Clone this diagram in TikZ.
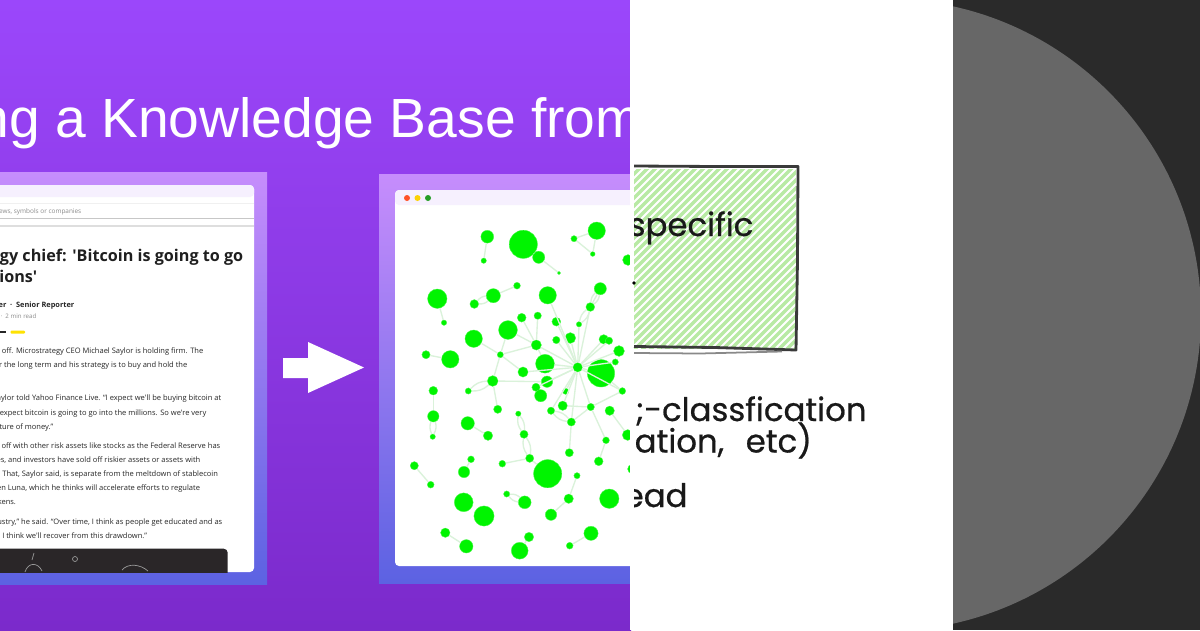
\documentclass[tikz,border=0pt]{standalone}
\usepackage{fontspec}
\setmainfont{Liberation Sans}
\newfontfamily\artfont{Open Sans}
\newfontfamily\handfont[FakeBold=.6]{Poppins}
\definecolor{BgTop}{HTML}{9B47FB}
\definecolor{BgBottom}{HTML}{7B2ACB}
\definecolor{PanelTop}{HTML}{C68DFC}
\definecolor{PanelBottom}{HTML}{5C62E2}
\definecolor{TitleBar}{HTML}{F6F0FE}
\definecolor{GraphGreen}{HTML}{00F400}
\definecolor{GraphEdge}{HTML}{DAF2DA}
\definecolor{Hatch}{HTML}{B8EAA4}
\definecolor{Sketch}{HTML}{3A3A3A}
\definecolor{DarkBg}{HTML}{2A2A2A}
\definecolor{DiscGray}{HTML}{676767}
\definecolor{PhotoDark}{HTML}{2A2628}
\tikzset{
  bodytext/.style={anchor=base east,inner sep=0pt,text=black!85,font=\artfont\fontsize{2.14}{2.5}\selectfont},
  headtext/.style={anchor=base east,inner sep=0pt,text=black!88,font=\artfont\bfseries\fontsize{4.6}{5.5}\selectfont},
  handtext/.style={anchor=base west,inner sep=0pt,text=black!90,font=\handfont\fontsize{9.2}{11}\selectfont},
  dot/.style={circle,fill=GraphGreen,inner sep=0pt,draw=GraphGreen!70!white,line width=.1pt},
  link/.style={draw=GraphEdge,line width=.38pt}
}
\begin{document}
\begin{tikzpicture}[x=.01cm,y=-.01cm]
  \path[use as bounding box,clip] (0,0) rectangle (1200,630);
  % purple slide
  \fill[top color=BgTop,bottom color=BgBottom] (0,0) rectangle (631,630);
  \node[anchor=base west,inner sep=0pt,text=white,font=\fontsize{15.7}{18}\selectfont] (slidetitle) at (-22,137) {ng a Knowledge Base from};
  \fill[top color=PanelTop,bottom color=PanelBottom] (0,172) rectangle (267,584);
  \fill[top color=PanelTop,bottom color=PanelBottom] (379,174) rectangle (631,583);
  % article card
  \fill[white,rounded corners=.04cm] (-20,185) rectangle (254,572);
  \fill[TitleBar,rounded corners=.04cm] (-20,185) rectangle (254,197);
  \draw[black!6,line width=.2pt] (-20,203) -- (254,203);
  \draw[black!22,line width=.2pt] (-20,218) -- (254,218);
  \fill[black!13] (-20,225) rectangle (254,227);
  \node[bodytext,text=black!45,font=\artfont\fontsize{1.83}{2.3}\selectfont] (search) at (82,213.5) {news, symbols or companies};
  \node[headtext] (head1) at (244,261) {egy chief: 'Bitcoin is going to go};
  \node[headtext] (head2) at (38,282) {lions'};
  \node[bodytext,text=black!85,font=\artfont\bfseries\fontsize{2.1}{2.8}\selectfont] (byline) at (75,307.5) {er\ \ ·\ \ Senior Reporter};
  \node[bodytext,text=black!45,font=\artfont\fontsize{1.75}{2.3}\selectfont] (readtime) at (37,318) {·\ \ 2 min read};
  \fill[black!85] (-5,331) rectangle (6,333);
  \fill[yellow!85!orange,rounded corners=.01cm] (10.5,330.5) rectangle (25,333.5);
  \node[bodytext] (l1) at (204,353) {l off. Microstrategy CEO Michael Saylor is holding firm. The};
  \node[bodytext] (l2) at (188,367) {r the long term and his strategy is to buy and hold the};
  \node[bodytext] (l3) at (222,400.7) {aylor told Yahoo Finance Live. “I expect we'll be buying bitcoin at};
  \node[bodytext] (l4) at (207,415) {expect bitcoin is going to go into the millions. So we're very};
  \node[bodytext] (l5) at (54,429) {ture of money.”};
  \node[bodytext] (l6) at (221,448.7) {off with other risk assets like stocks as the Federal Reserve has};
  \node[bodytext] (l7) at (201,462.7) {es, and investors have sold off riskier assets or assets with};
  \node[bodytext] (l8) at (218.7,476.7) {. That, Saylor said, is separate from the meltdown of stablecoin};
  \node[bodytext] (l9) at (200.7,490.7) {en Luna, which he thinks will accelerate efforts to regulate};
  \node[bodytext] (l10) at (16.7,504.3) {kens.};
  \node[bodytext] (l11) at (223,524.7) {ustry,” he said. “Over time, I think as people get educated and as};
  \node[bodytext] (l12) at (147.7,538.7) {, I think we'll recover from this drawdown.”};
  \begin{scope}
    \clip (-20,548.7) rectangle (227.7,572);
    \fill[PhotoDark,rounded corners=.04cm] (-20,548.7) rectangle (227.7,590);
    \draw[white!60!black,line width=.2pt] (25,572) .. controls (28,562) and (38,562) .. (42,571);
    \draw[white!60!black,line width=.2pt] (32,560) -- (34,553);
    \draw[white!60!black,line width=.2pt] (75,559) circle (2.5);
    \draw[white!60!black,line width=.2pt] (122,570) .. controls (128,563) and (140,564) .. (148,571);
  \end{scope}
  % arrow between the two panels
  \fill[white] (283,358) -- (308,358) -- (308,342) -- (364,367.5) -- (308,393) -- (308,378) -- (283,378) -- cycle;
  % graph card
  \fill[white,rounded corners=.04cm] (395,190) rectangle (660,566);
  \fill[TitleBar,rounded corners=.04cm] (395,190) rectangle (660,205);
  \fill[red!60!orange!85] (407,198) circle (3);
  \fill[yellow!70!orange] (417.5,198) circle (3);
  \fill[green!55!black!85] (428,198) circle (3);
  \foreach \nm/\px/\py/\rad in {
    a/487.3/236.7/6, b/483.7/260.7/2.3, c/523.3/244.3/13.7, d/538.7/257.3/5.7, e/559/273/1.3,
    f/596.7/230.7/8.3, g/574/238.7/2.7, h/592.7/254/2, i/628/260/5, j/437.3/298.7/9.3,
    k/444/322.7/2.3, l/493.3/295.7/6.7, m/474.3/304/4, n/517/285.7/3, o/547.7/295.3/8.3,
    p/600.3/288.7/5.7, q/590.3/307/4, r/579/324.3/2.3, s/521.7/317.7/4, t/537.7/315.7/3.3,
    u/556.3/321.7/4, v/508/330/9, w/473.7/338.7/8.3, x/536.3/345/4.7, y/556.3/340/3.3,
    z/570.3/338/5, aa/603.7/339.3/4.3, ab/609/340.7/3.3, ac/619/351/5, ad/615.3/362/2.7,
    ae/426/354.7/3.7, af/450.3/359.3/8.3, ag/500.3/354.7/2.7, ah/545/363.7/9, ai/523/372/4.7,
    aj/577.7/367.3/4.3, ak/601/373.3/13.3, al/492.7/381/5, am/468.3/391/2.7, an/547/381.7/5.3,
    ao/536/387.3/3.7, ap/540.7/395.7/5.7, aq/565.7/391.3/2.7, ar/562.7/405.7/4.3, as/551/410.7/3.3,
    at/590.7/407/3.3, au/622.3/391/3, av/609.7/410.7/4.3, aw/571.3/422/3.7, ax/433.3/390.7/4,
    ay/433.3/416.3/5.3, az/432.7/436.7/2.3, ba/497.7/409.3/3.7, bb/467.7/423.3/6.3, bc/488/435.7/4.3,
    bd/518.3/413.7/2.3, be/524/434.3/3.7, bf/529.7/458.3/3.7, bg/502.3/463.7/3, bh/547.7/473.7/13.7,
    bi/569.3/452.7/3.7, bj/606/440.3/3, bk/598.7/461.3/4, bl/627.7/435/5, bm/632/469/4,
    bn/577/475.7/2.7, bo/471/459.3/3, bp/464/472/5.3, bq/414.3/465.7/3.7, br/430.7/484.7/3,
    bs/463.7/502.3/9, bt/484/516/9.7, bu/506.7/494/2.7, bv/524.7/502.3/6, bw/568.7/498.7/4.3,
    bx/551/514.7/5.3, by/609.3/498.7/9.3, bz/445.3/532.7/4.3, ca/466.3/546.3/6.3, cb/529/537/4.3,
    cc/519.7/550.7/8, cd/591/533.3/6.7, ce/569.7/545.7/3}
    \node[dot,minimum size=(\rad+.4)*.02cm] (\nm) at (\px,\py) {};
  \foreach \from/\to in {
    a/b, c/d, d/e, f/g, f/h, g/h, j/k, l/n, o/aj, p/q, q/aj, r/aj, s/x, t/x, u/aj, y/aj, z/aj,
    aa/aj, ab/aj, ac/aj, ad/aj, ak/aj, v/x, w/ag, ag/v, ag/x, ag/ai, ag/al, x/ah, x/aj, ah/aj,
    ai/aj, ae/af, an/aj, ao/aj, aq/aj, ar/aj, as/aj, at/aj, aw/aj, au/aj, al/an, al/ba, ax/ay,
    bb/bc, bf/bg, bf/bh, bi/aw, bj/at, bj/bk, av/bl, ar/at, aw/at, at/au, bo/bp, bq/br, bw/bn,
    bw/bx, bz/ca, cb/cc, cd/ce, ak/au}
    \draw[link] (\from) -- (\to);
  \foreach \from/\to in {l/m, p/q, q/r, al/am, ay/az, bd/be, be/bf, bu/bv, as/aw}{
    \draw[link] (\from) to[bend left=22] (\to);
    \draw[link] (\from) to[bend right=22] (\to);
  }
  % white sheet with the sketch
  \fill[white] (630,0) rectangle (953,630);
  \begin{scope}
    \clip (634,169) rectangle (796,348);
    \foreach \k in {0,8,...,360}
      \draw[Hatch,line width=.035cm] (440+\k,360) -- (640+\k,160);
  \end{scope}
  \draw[Sketch,line width=.8pt,line join=round] (634,166) -- (716,166.5) -- (798,166.5) -- (797.5,260) -- (796,350) -- (715,347.5) -- (634,346.5);
  \draw[Sketch!60,line width=.5pt] (634,353) -- (700,353.5) -- (782,351.5);
  \fill[black] (634,283) circle (1.8);
  \begin{scope}
    \clip (634,0) rectangle (953,630);
    \node[handtext] (specific) at (628,236) {specific};
    \node[handtext] (classif) at (635,421) {;-classfication};
    \node[handtext] (etc) at (634,452.5) {ation,\hspace{.13cm} etc)};
    \node[handtext] (readnode) at (623,507) {ead};
  \end{scope}
  % dark panel with the disc
  \fill[DarkBg] (953,0) rectangle (1200,630);
  \begin{scope}
    \clip (953,0) rectangle (1200,630);
    \fill[DiscGray] (885,315) circle (316);
  \end{scope}
\end{tikzpicture}
\end{document}
